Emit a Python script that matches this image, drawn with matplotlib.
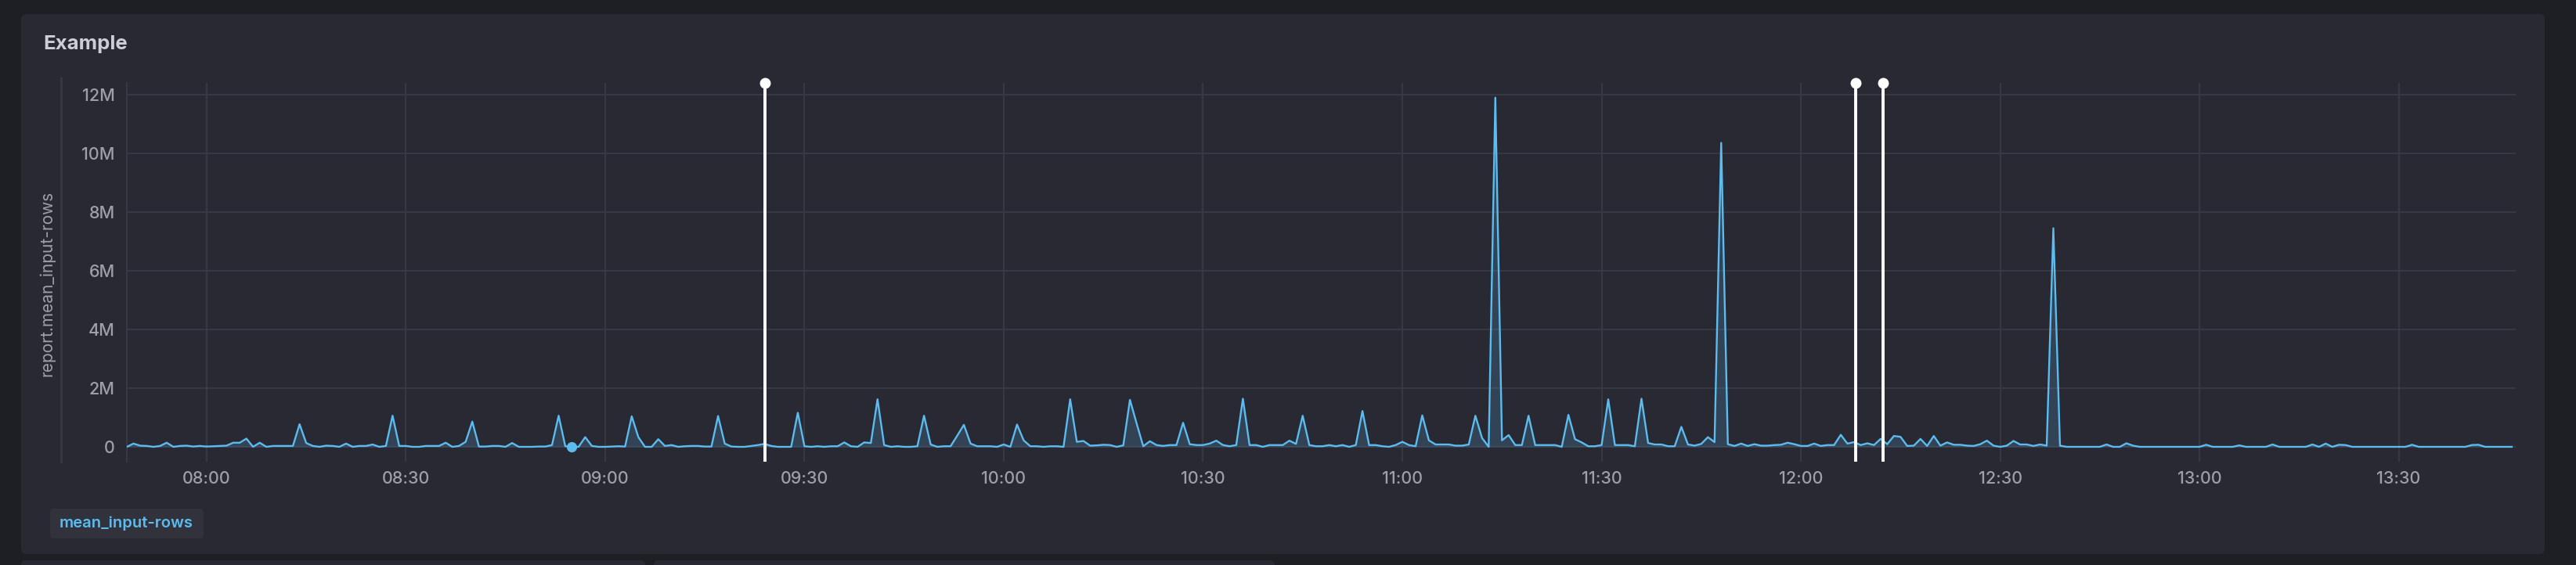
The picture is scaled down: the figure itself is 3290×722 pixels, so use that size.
import matplotlib
matplotlib.use("Agg")
import matplotlib.pyplot as plt
import matplotlib.dates as mdates
from matplotlib.patches import FancyBboxPatch
import pandas as pd

# ---- data (values in millions, one sample per minute from 07:48) ----
TITLE = "Example"
SERIES = "mean_input-rows"
YLABEL = "report.mean_input-rows"
DAY = "2024-01-01"
START = "07:48"
END_VIEW = "13:47:36"
values_m = [
    0.0, 0.11, 0.04, 0.03, 0.0, 0.03, 0.14, 0.0, 0.03, 0.04, 0.01, 0.03,
    0.01, 0.02, 0.03, 0.04, 0.14, 0.14, 0.28, 0.0, 0.14, 0.0, 0.03, 0.03,
    0.03, 0.03, 0.77, 0.13, 0.03, 0.0, 0.04, 0.03, 0.0, 0.11, 0.0, 0.03,
    0.03, 0.08, 0.0, 0.03, 1.06, 0.03, 0.03, 0.0, 0.0, 0.03, 0.03, 0.03,
    0.14, 0.0, 0.03, 0.17, 0.86, 0.01, 0.01, 0.03, 0.03, 0.0, 0.13, 0.0,
    0.0, 0.0, 0.01, 0.01, 0.06, 1.06, 0.02, 0.0, 0.0, 0.33, 0.03, 0.0,
    0.0, 0.01, 0.02, 0.01, 1.04, 0.33, 0.0, 0.0, 0.26, 0.03, 0.06, 0.0,
    0.02, 0.03, 0.03, 0.01, 0.01, 1.05, 0.11, 0.01, 0.0, 0.0, 0.03, 0.06,
    0.1, 0.03, 0.0, 0.0, 0.0, 1.16, 0.02, 0.0, 0.02, 0.0, 0.02, 0.02,
    0.15, 0.02, 0.0, 0.15, 0.13, 1.62, 0.06, 0.0, 0.02, 0.0, 0.0, 0.02,
    1.06, 0.08, 0.0, 0.02, 0.02, 0.38, 0.75, 0.11, 0.02, 0.02, 0.02, 0.0,
    0.08, 0.0, 0.76, 0.22, 0.02, 0.02, 0.0, 0.02, 0.02, 0.0, 1.62, 0.17,
    0.2, 0.04, 0.05, 0.07, 0.06, 0.0, 0.05, 1.6, 0.8, 0.02, 0.19, 0.06,
    0.03, 0.06, 0.06, 0.82, 0.09, 0.06, 0.06, 0.11, 0.21, 0.06, 0.02, 0.06,
    1.64, 0.06, 0.06, 0.0, 0.06, 0.06, 0.06, 0.21, 0.1, 1.06, 0.06, 0.02,
    0.02, 0.06, 0.02, 0.06, 0.0, 0.06, 1.22, 0.06, 0.06, 0.02, 0.0, 0.06,
    0.17, 0.06, 0.02, 1.07, 0.22, 0.08, 0.08, 0.08, 0.04, 0.04, 0.08, 1.06,
    0.3, 0.0, 11.9, 0.22, 0.4, 0.06, 0.06, 1.06, 0.06, 0.06, 0.06, 0.06,
    0.0, 1.09, 0.26, 0.15, 0.02, 0.02, 0.06, 1.62, 0.06, 0.06, 0.06, 0.02,
    1.64, 0.13, 0.08, 0.08, 0.02, 0.02, 0.68, 0.08, 0.04, 0.1, 0.33, 0.16,
    10.36, 0.09, 0.03, 0.11, 0.03, 0.09, 0.04, 0.04, 0.06, 0.07, 0.14, 0.09,
    0.03, 0.03, 0.11, 0.03, 0.06, 0.06, 0.41, 0.11, 0.16, 0.06, 0.12, 0.06,
    0.27, 0.09, 0.37, 0.34, 0.03, 0.04, 0.27, 0.03, 0.37, 0.04, 0.15, 0.07,
    0.07, 0.04, 0.03, 0.09, 0.21, 0.04, 0.0, 0.04, 0.2, 0.08, 0.08, 0.03,
    0.08, 0.04, 7.45, 0.04, 0.0, 0.0, 0.0, 0.0, 0.0, 0.0, 0.08, 0.0,
    0.0, 0.12, 0.04, 0.0, 0.0, 0.0, 0.0, 0.0, 0.0, 0.0, 0.0, 0.0,
    0.0, 0.07, 0.0, 0.0, 0.0, 0.0, 0.05, 0.0, 0.0, 0.0, 0.0, 0.08,
    0.0, 0.0, 0.0, 0.0, 0.0, 0.08, 0.0, 0.11, 0.0, 0.07, 0.06, 0.0,
    0.0, 0.0, 0.0, 0.0, 0.0, 0.0, 0.0, 0.0, 0.07, 0.0, 0.0, 0.0,
    0.0, 0.0, 0.0, 0.0, 0.0, 0.06, 0.07, 0.0, 0.0, 0.0, 0.0, 0.0,
]
annotation_times = ["09:24:06", "12:08:12", "12:12:24"]
marker_time = "08:55"
marker_value = 0.0
yticks = [0, 2, 4, 6, 8, 10, 12]
ytick_labels = ["0", "2M", "4M", "6M", "8M", "10M", "12M"]

# ---- style ----
OUTER = "#1e1f24"; CARD = "#282932"; GRID = "#383945"; TICK = "#9e9fa8"
TITLEC = "#cdced4"; BLUE = "#5cbcf0"; LEGBG = "#31323c"; WHITE = "#ffffff"
plt.rcParams["font.family"] = ["Inter", "DejaVu Sans"]

W, H = 3290, 722
fig = plt.figure(figsize=(W / 100, H / 100), dpi=100)
fig.patch.set_facecolor(OUTER)

# background layer in pixel coordinates
bg = fig.add_axes([0, 0, 1, 1])
bg.set_xlim(0, W); bg.set_ylim(H, 0); bg.axis("off")
bg.add_patch(FancyBboxPatch((27, 18), 3223, 690, boxstyle="round,pad=0,rounding_size=7",
                            fc=CARD, ec="none"))
for x0, x1 in [(27, 824), (835, 1628)]:
    bg.add_patch(FancyBboxPatch((x0, 716), x1 - x0, 30, boxstyle="round,pad=0,rounding_size=6",
                                fc=CARD, ec="none"))
bg.text(55, 57, TITLE, fontsize=18.5, fontweight="bold", color=TITLEC, ha="left", va="center")
bg.plot([78, 78], [100, 590], color=GRID, lw=2)
bg.text(60, 362, YLABEL, rotation=90, fontsize=15, color=TICK, ha="center", va="center")
bg.add_patch(FancyBboxPatch((64, 650), 196, 38, boxstyle="round,pad=0,rounding_size=5",
                            fc=LEGBG, ec="none"))
bg.text(76, 669, SERIES, fontsize=14.5, fontweight="semibold", color=BLUE, ha="left", va="center")

# ---- chart ----
t = pd.date_range(f"{DAY} {START}", periods=len(values_m), freq="min")
v = pd.Series(values_m, index=t) * 1e6
ax = fig.add_axes([162 / W, 1 - 590 / H, (3213 - 162) / W, (590 - 106) / H])
ax.set_facecolor("none")
ax.fill_between(t, v.values, 0, color=BLUE, alpha=0.18, lw=0, zorder=2)
ax.plot(t, v.values, color=BLUE, lw=1.7, zorder=3)

ylo, yhi = -0.507e6, 12.4e6
ax.set_ylim(ylo, yhi)
ax.set_xlim(pd.Timestamp(f"{DAY} {START}"), pd.Timestamp(f"{DAY} {END_VIEW}"))
ax.set_yticks([y * 1e6 for y in yticks])
ax.set_yticklabels(ytick_labels)
ax.xaxis.set_major_locator(mdates.MinuteLocator(byminute=[0, 30]))
ax.xaxis.set_major_formatter(mdates.DateFormatter("%H:%M"))
ax.grid(True, color=GRID, lw=1.4, zorder=0)
ax.set_axisbelow(True)
for s in ("top", "right", "bottom"):
    ax.spines[s].set_visible(False)
ax.spines["left"].set_color(GRID); ax.spines["left"].set_linewidth(1.4)
ax.tick_params(length=0, labelsize=15.5, labelcolor=TICK)
ax.tick_params(axis="y", pad=11)
ax.tick_params(axis="x", pad=9)
for lab in ax.get_xticklabels() + ax.get_yticklabels():
    lab.set_fontweight("medium")

for a in annotation_times:
    ta = pd.Timestamp(f"{DAY} {a}")
    ax.axvline(ta, color=WHITE, lw=2.8, zorder=5)
    ax.plot([ta], [yhi], "o", ms=9, color=WHITE, clip_on=False, zorder=6)

ax.plot([pd.Timestamp(f"{DAY} {marker_time}")], [marker_value * 1e6], "o", ms=8.5,
        color=BLUE, zorder=6)

fig.savefig("out.png", dpi=100, facecolor=OUTER)
